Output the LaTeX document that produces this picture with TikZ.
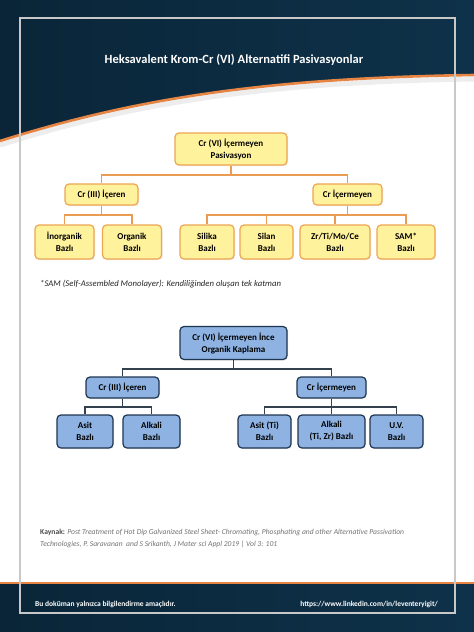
\documentclass[tikz,border=0pt]{standalone}
\usepackage{fontspec}
\setmainfont{Carlito}
\usetikzlibrary{shadows}
\definecolor{navyA}{HTML}{0A2538}
\definecolor{navyB}{HTML}{164663}
\definecolor{navyC}{HTML}{0E324A}
\definecolor{orangeline}{HTML}{E58443}
\definecolor{yfill}{HTML}{FFF29C}
\definecolor{yborder}{HTML}{EFA552}
\definecolor{yconn}{HTML}{E99C52}
\definecolor{bfill}{HTML}{8EB3E3}
\definecolor{bborder}{HTML}{1E3550}
\definecolor{bconn}{HTML}{33414F}
\definecolor{framegrey}{HTML}{C8C8C8}
\begin{document}
\begin{tikzpicture}[x=1pt,y=-1pt,
  ybox/.style={draw=yborder,fill=yfill,line width=1.2pt,rounded corners=4pt,
    align=center,inner sep=0pt,font=\fontsize{9}{12}\selectfont\bfseries,
    drop shadow={opacity=0.15,shadow xshift=1pt,shadow yshift=-1.2pt}},
  bbox/.style={draw=bborder,fill=bfill,line width=1.2pt,rounded corners=4pt,
    align=center,inner sep=0pt,font=\fontsize{9}{12}\selectfont\bfseries,
    drop shadow={opacity=0.15,shadow xshift=1pt,shadow yshift=-1.2pt}},
  yline/.style={draw=yconn,line width=1.3pt},
  bline/.style={draw=bconn,line width=1.2pt},
  footer/.style={text=white,font=\fontsize{7.5}{8}\selectfont\bfseries,inner sep=0pt}]
\useasboundingbox (0,0) rectangle (474,632);
\fill[white] (0,0) rectangle (474,632);
% header
\shade[left color=navyA,middle color=navyB,right color=navyC]
  (0,0) -- (474,0) -- (474,75) .. controls (260,78) and (130,100) .. (0,141) -- cycle;
\draw[line width=5pt,black!7] (474,79) .. controls (260,82) and (130,104) .. (0,145);
\draw[line width=2.6pt,orangeline] (474,75) .. controls (260,78) and (130,100) .. (0,141);
% footer
\shade[left color=navyA,middle color=navyB,right color=navyC] (0,583) rectangle (474,632);
\draw[line width=2.4pt,orangeline] (0,583) -- (474,583);
% frame
\draw[framegrey,line width=1.2pt] (20,18) rectangle (455,613);
% title
\node[text=white,font=\fontsize{12.5}{14}\selectfont\bfseries,inner sep=0pt] (title) at (234,60)
  {Heksavalent Krom-Cr (VI) Alternatifi Pasivasyonlar};

% top tree
\node[ybox,minimum width=112pt,minimum height=32pt] (root) at (231,149) {Cr (VI) İçermeyen\\Pasivasyon};
\node[ybox,minimum width=73pt,minimum height=21pt] (c3) at (101.5,194.5) {Cr (III) İçeren};
\node[ybox,minimum width=69pt,minimum height=21pt] (c0) at (347.5,194.5) {Cr İçermeyen};
\node[ybox,minimum width=59pt,minimum height=34pt] (inorg) at (64.5,242) {İnorganik\\Bazlı};
\node[ybox,minimum width=59pt,minimum height=34pt] (org) at (132,242) {Organik\\Bazlı};
\node[ybox,minimum width=54pt,minimum height=34pt] (silika) at (207,242) {Silika\\Bazlı};
\node[ybox,minimum width=53pt,minimum height=34pt] (silan) at (266.5,242) {Silan\\Bazlı};
\node[ybox,minimum width=70pt,minimum height=34pt] (zr) at (335,242) {Zr/Ti/Mo/Ce\\Bazlı};
\node[ybox,minimum width=58pt,minimum height=34pt] (sam) at (406,242) {SAM*\\Bazlı};
\coordinate (t1) at (231,175);
\coordinate (t2) at (101.5,215);
\coordinate (t3) at (347.5,215);
\draw[yline] (root) -- (t1);
\draw[yline] (c3.north) |- (t1) -| (c0.north);
\draw[yline] (c3) -- (t2);
\draw[yline] (inorg.north) |- (t2) -| (org.north);
\draw[yline] (c0) -- (t3);
\draw[yline] (silika.north) |- (t3) -| (sam.north);
\draw[yline] (silan.north) -- (silan.north |- t3);
\draw[yline] (zr.north) -- (zr.north |- t3);

\node[anchor=west,inner sep=0pt,text=black!85,font=\fontsize{8.7}{10}\selectfont\itshape] (fn) at (40,284)
  {*SAM (Self-Assembled Monolayer): Kendiliğinden oluşan tek katman};

% bottom tree
\node[bbox,minimum width=107pt,minimum height=33pt] (broot) at (233.5,343) {Cr (VI) İçermeyen İnce\\Organik Kaplama};
\node[bbox,minimum width=73pt,minimum height=21pt] (bc3) at (122.5,387.5) {Cr (III) İçeren};
\node[bbox,minimum width=69pt,minimum height=21pt] (bc0) at (331.5,387.5) {Cr İçermeyen};
\node[bbox,minimum width=56pt,minimum height=33pt] (asit) at (85,431.5) {Asit\\Bazlı};
\node[bbox,minimum width=57pt,minimum height=33pt] (alk) at (151.5,431.5) {Alkali\\Bazlı};
\node[bbox,minimum width=53pt,minimum height=33pt] (asitti) at (264.5,431.5) {Asit (Ti)\\Bazlı};
\node[bbox,minimum width=67pt,minimum height=33pt] (alkti) at (331.5,431.5) {Alkali\\(Ti, Zr) Bazlı};
\node[bbox,minimum width=53pt,minimum height=33pt] (uv) at (396.5,431.5) {U.V.\\Bazlı};
\coordinate (u1) at (233.5,369);
\coordinate (u2) at (122.5,407);
\coordinate (u3) at (331.5,407);
\draw[bline] (broot) -- (u1);
\draw[bline] (bc3.north) |- (u1) -| (bc0.north);
\draw[bline] (bc3) -- (u2);
\draw[bline] (asit.north) |- (u2) -| (alk.north);
\draw[bline] (bc0) -- (alkti);
\draw[bline] (asitti.north) |- (u3) -| (uv.north);

% source
\node[anchor=north west,inner sep=0pt,align=left,text=black!55,font=\fontsize{7.6}{12}\selectfont\itshape] (src) at (40,529)
  {{\upshape\bfseries\color{black!70}Kaynak:} Post Treatment of Hot Dip Galvanized Steel Sheet- Chromating, Phosphating and other Alternative Passivation\\
   Technologies, P. Saravanan\ \ and S Srikanth, J Mater sci Appl 2019 | Vol 3: 101};

% footer texts
\node[footer,anchor=west] (fl) at (35,604) {Bu doküman yalnızca bilgilendirme amaçlıdır.};
\node[footer,anchor=east] (fr) at (438,604) {https://www.linkedin.com/in/leventeryigit/};
\end{tikzpicture}
\end{document}
